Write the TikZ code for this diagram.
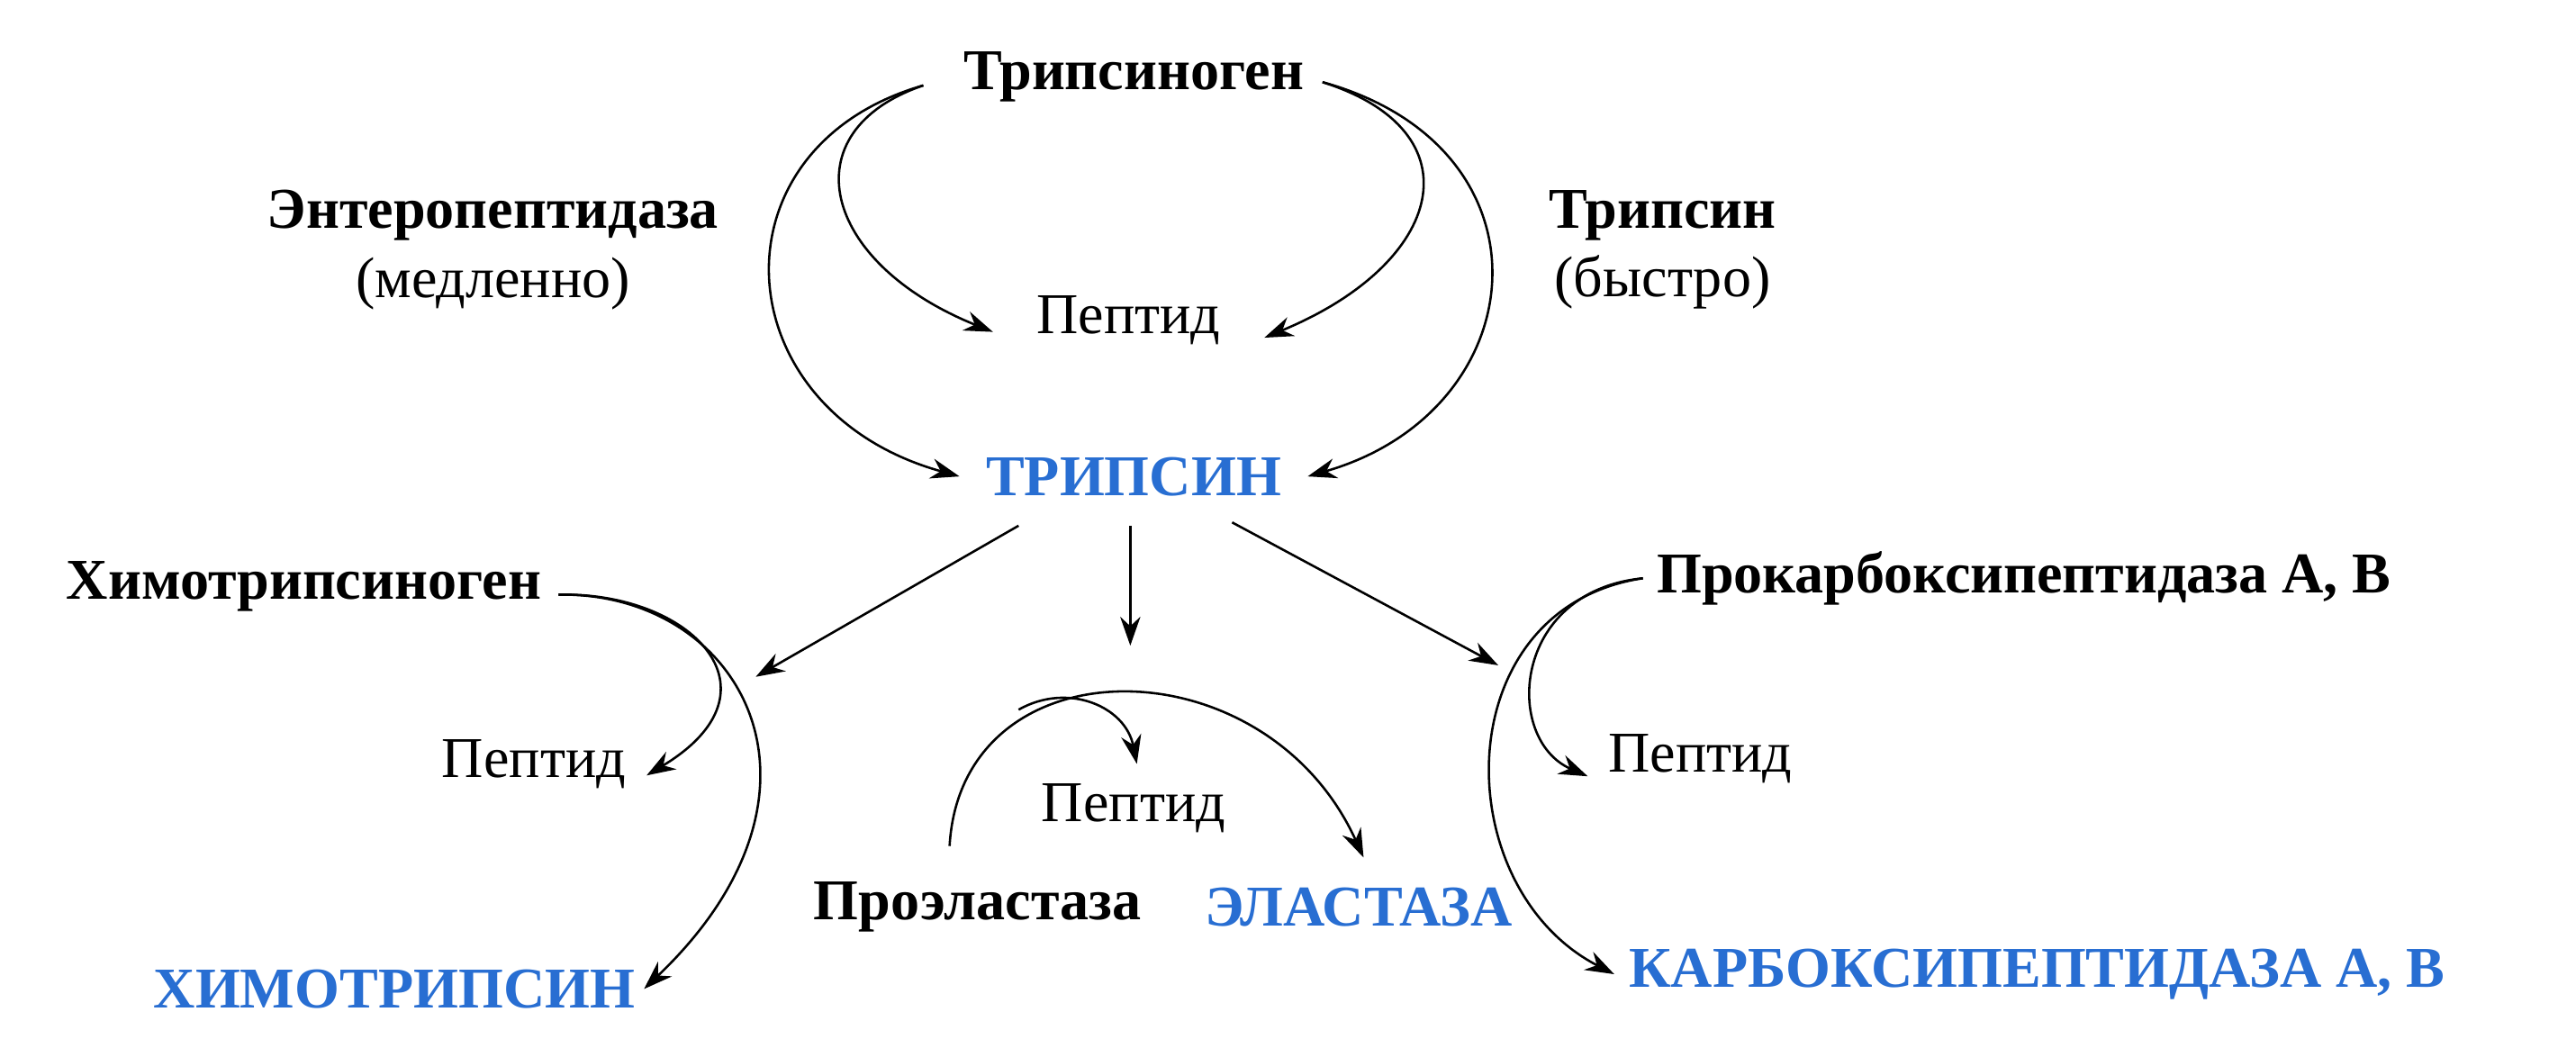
\documentclass[tikz,border=0pt]{standalone}
\usepackage{fontspec}
\setmainfont{Liberation Serif}
\usetikzlibrary{arrows.meta}
\definecolor{bl}{RGB}{40,110,210}
\begin{document}
\begin{tikzpicture}[x=0.02cm,y=-0.02cm,
  every node/.style={font=\fontsize{20}{24}\selectfont,inner sep=1pt,align=center},
  bt/.style={font=\fontsize{20}{24}\selectfont\bfseries},
  bb/.style={font=\fontsize{20}{24}\selectfont\bfseries,text=bl},
  ar/.style={-{Stealth[length=10pt,width=7pt]},line width=0.8pt}]
\useasboundingbox (0,0) rectangle (1568,632);
\node[bt] (tg) at (690,47) {Трипсиноген};
\node (ent) at (300,152) {\textbf{Энтеропептидаза}\\(медленно)};
\node (tr) at (1012,152) {\textbf{Трипсин}\\(быстро)};
\node (p1) at (687,195) {Пептид};
\node[bb] (T) at (690,290) {ТРИПСИН};
\node[bt] (htg) at (185,357) {Химотрипсиноген};
\node[bt] (pk) at (1232,352) {Прокарбоксипептидаза А, В};
\node (p2) at (325,465) {Пептид};
\node (p3) at (1035,462) {Пептид};
\node (p4) at (690,492) {Пептид};
\node[bt] (pe) at (595,552) {Проэластаза};
\node[bb] (el) at (827,552) {ЭЛАСТАЗА};
\node[bb] (ht) at (240,602) {ХИМОТРИПСИН};
\node[bb] (kp) at (1240,593) {КАРБОКСИПЕПТИДАЗА А, В};
\coordinate (a1) at (562,52); \coordinate (a2) at (805,50);
\draw[ar] (a1) .. controls (430,90) and (440,250) .. ([xshift=-8]T.west);
\draw[ar] (a1) .. controls (480,80) and (500,160) .. ([xshift=-14,yshift=-4]p1.west);
\draw[ar] (a2) .. controls (950,90) and (935,250) .. ([xshift=8]T.east);
\draw[ar] (a2) .. controls (900,80) and (880,160) .. ([xshift=14,yshift=-6]p1.east);
\draw[ar] (620,320) -- (460,412);
\draw[ar] (688,320) -- (688,393);
\draw[ar] (750,318) -- (912,405);
\coordinate (b1) at (340,362);
\draw[ar] (b1) .. controls (420,360) and (480,420) .. ([xshift=6,yshift=-4]p2.east);
\draw[ar] (b1) .. controls (450,360) and (520,480) .. ([xshift=2]ht.east);
\coordinate (c1) at (1000,352);
\draw[ar] (c1) .. controls (920,360) and (915,450) .. ([xshift=-6,yshift=-6]p3.west);
\draw[ar] (c1) .. controls (880,370) and (880,540) .. ([xshift=-4]kp.west);
\coordinate (d1) at (578,515);
\draw[ar] (d1) .. controls (585,390) and (770,390) .. (830,522);
\draw[ar] (620,432) .. controls (650,415) and (685,430) .. (692,465);
\end{tikzpicture}
\end{document}
